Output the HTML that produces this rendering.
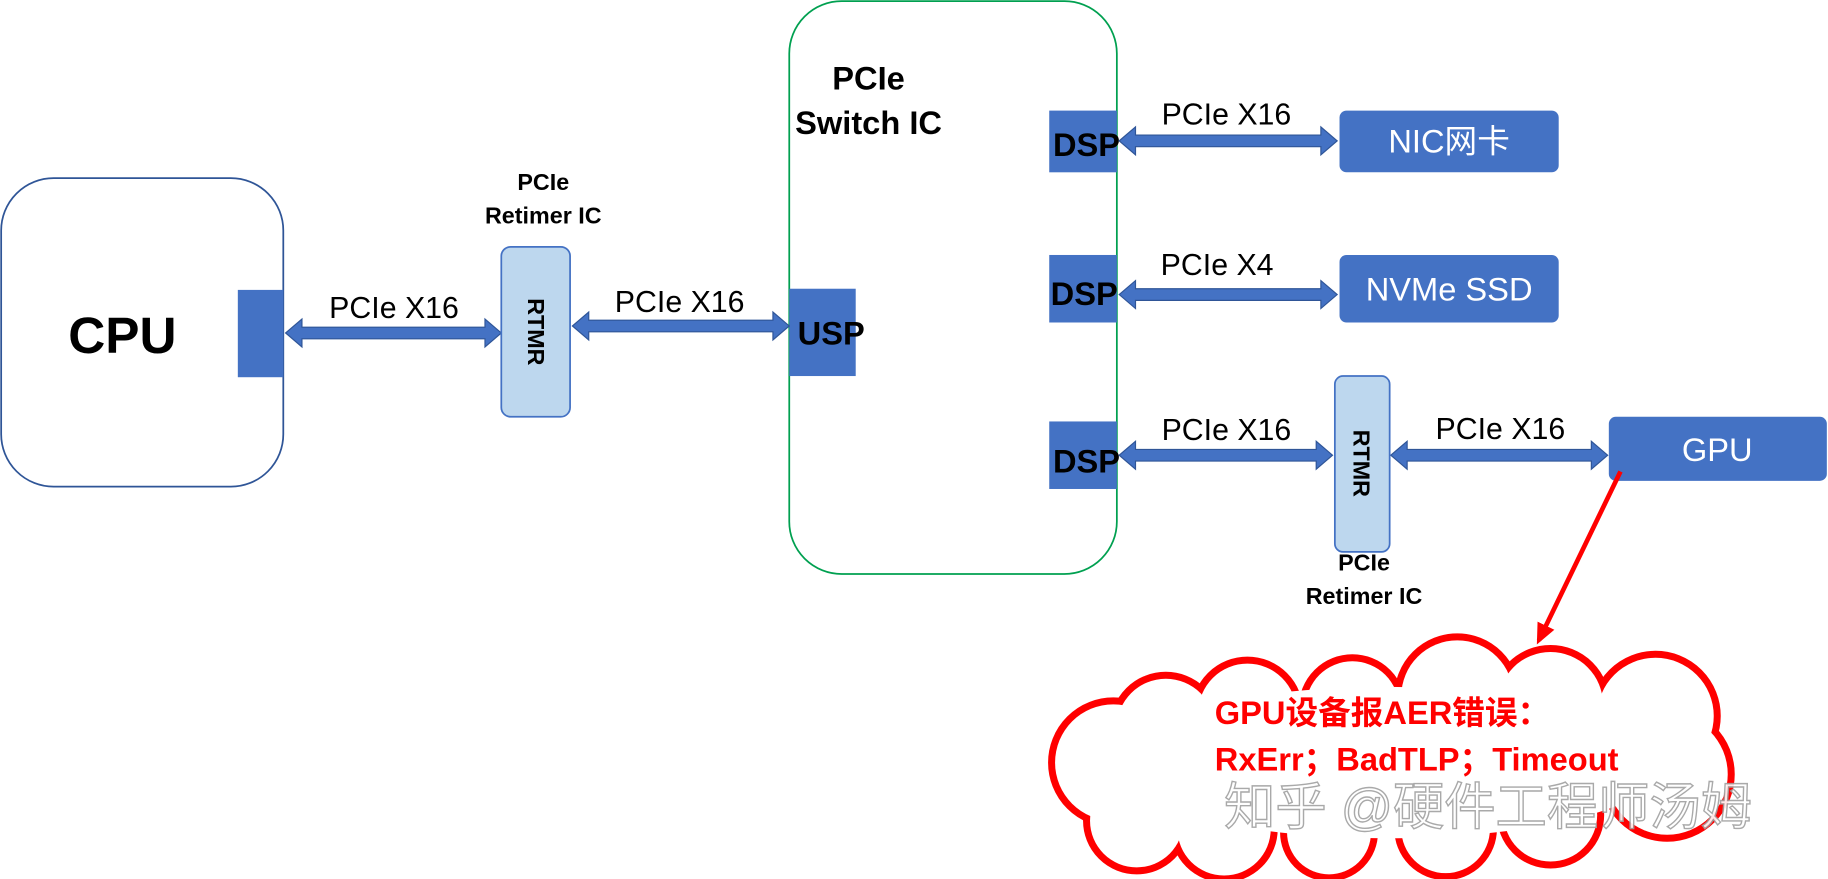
<!DOCTYPE html>
<html><head><meta charset="utf-8"><style>
html,body{margin:0;padding:0;background:#fff;}
svg{display:block}
text{font-family:"Liberation Sans","Noto Sans CJK SC",sans-serif;}
</style></head><body>
<svg width="1828" height="879" viewBox="0 0 1568 755" preserveAspectRatio="none" xmlns="http://www.w3.org/2000/svg">
<defs>
<marker id="rh" markerWidth="20" markerHeight="20" refX="14" refY="10" orient="auto" markerUnits="userSpaceOnUse"><path d="M0,2 L18,10 L0,18 Z" fill="#ff0000"/></marker>
</defs>
<g fill="none">
<rect x="1" y="153" width="242" height="265" rx="45" stroke="#2f5597" stroke-width="1.5"/>
<rect x="677" y="1" width="281" height="492" rx="45" stroke="#00a050" stroke-width="1.5"/>
</g>
<text x="105" y="303" font-size="44" font-weight="bold" text-anchor="middle">CPU</text>
<rect x="204" y="249" width="39" height="75" fill="#4472c4"/>
<rect x="677" y="248" width="57" height="75" fill="#4472c4"/>
<rect x="900" y="95" width="58" height="53" fill="#4472c4"/>
<rect x="900" y="219" width="58" height="58" fill="#4472c4"/>
<rect x="900" y="362" width="58" height="58" fill="#4472c4"/>
<text x="745" y="77" font-size="28" font-weight="bold" text-anchor="middle">PCIe</text>
<text x="745" y="115" font-size="28" font-weight="bold" text-anchor="middle">Switch IC</text>
<text x="713" y="296" font-size="28" font-weight="bold" text-anchor="middle">USP</text>
<text x="932" y="134" font-size="28" font-weight="bold" text-anchor="middle">DSP</text>
<text x="930" y="262" font-size="28" font-weight="bold" text-anchor="middle">DSP</text>
<text x="932" y="406" font-size="28" font-weight="bold" text-anchor="middle">DSP</text>
<g fill="#4472c4" stroke="#2f5597" stroke-width="1">
<path d="M245,286 l14,-12 v7 h157 v-7 l14,12 l-14,12 v-7 h-157 v7 z"/>
<path d="M491,280 l14,-12 v7 h158 v-7 l14,12 l-14,12 v-7 h-158 v7 z"/>
<path d="M960,121 l14,-12 v7 h159 v-7 l14,12 l-14,12 v-7 h-159 v7 z"/>
<path d="M960,253 l14,-12 v7 h159 v-7 l14,12 l-14,12 v-7 h-159 v7 z"/>
<path d="M960,391 l14,-12 v7 h155 v-7 l14,12 l-14,12 v-7 h-155 v7 z"/>
<path d="M1193,391 l14,-12 v7 h158 v-7 l14,12 l-14,12 v-7 h-158 v7 z"/>
</g>
<g font-size="26" text-anchor="middle" fill="#000">
<text x="338" y="273">PCIe X16</text>
<text x="583" y="268">PCIe X16</text>
<text x="1052" y="107">PCIe X16</text>
<text x="1044" y="236">PCIe X4</text>
<text x="1052" y="378">PCIe X16</text>
<text x="1287" y="377">PCIe X16</text>
</g>
<rect x="430" y="212" width="59" height="146" rx="8" fill="#bdd7ee" stroke="#4472c4" stroke-width="1.5"/>
<text transform="translate(453,285) rotate(90)" font-size="20" font-weight="bold" text-anchor="middle">RTMR</text>
<rect x="1145" y="323" width="47" height="151" rx="7" fill="#bdd7ee" stroke="#4472c4" stroke-width="1.5"/>
<text transform="translate(1161,398) rotate(90)" font-size="20" font-weight="bold" text-anchor="middle">RTMR</text>
<g font-size="20" font-weight="bold" text-anchor="middle">
<text x="466" y="163">PCIe</text>
<text x="466" y="192">Retimer IC</text>
<text x="1170" y="490">PCIe</text>
<text x="1170" y="519">Retimer IC</text>
</g>
<rect x="1149" y="95" width="188" height="53" rx="6" fill="#4472c4"/>
<rect x="1149" y="219" width="188" height="58" rx="6" fill="#4472c4"/>
<rect x="1380" y="358" width="187" height="55" rx="6" fill="#4472c4"/>
<g font-size="28" fill="#fff" text-anchor="middle">
<text x="1243" y="131">NIC网卡</text>
<text x="1243" y="258">NVMe SSD</text>
<text x="1473" y="396">GPU</text>
</g>
<g id="cl">
<circle cx="955" cy="655" r="50"/><circle cx="975" cy="705" r="40"/><circle cx="1050" cy="712" r="40"/>
<circle cx="1140" cy="715" r="36"/><circle cx="1240" cy="712" r="38"/><circle cx="1330" cy="700" r="40"/>
<circle cx="1430" cy="665" r="52"/><circle cx="1420" cy="615" r="50"/><circle cx="1330" cy="605" r="45"/>
<circle cx="1250" cy="598" r="48"/><circle cx="1160" cy="608" r="40"/><circle cx="1070" cy="612" r="42"/>
<circle cx="1000" cy="625" r="42"/>
</g>
<use href="#cl" fill="none" stroke="#ff0000" stroke-width="12"/>
<use href="#cl" fill="#fff"/>
<ellipse cx="1190" cy="655" rx="240" ry="65" fill="#fff"/>
<line x1="1390" y1="405" x2="1320" y2="550" stroke="#ff0000" stroke-width="4" marker-end="url(#rh)"/>
<g font-size="28" font-weight="bold" fill="#ff0000">
<text x="1042" y="622">GPU设备报AER错误：</text>
<text x="1042" y="662">RxErr；BadTLP；Timeout</text>
</g>
<text x="1050" y="708" font-size="44" fill="#ffffff" stroke="#a0a0a0" stroke-width="1.2" opacity="0.9">知乎 @硬件工程师汤姆</text>
</svg>
</body></html>
